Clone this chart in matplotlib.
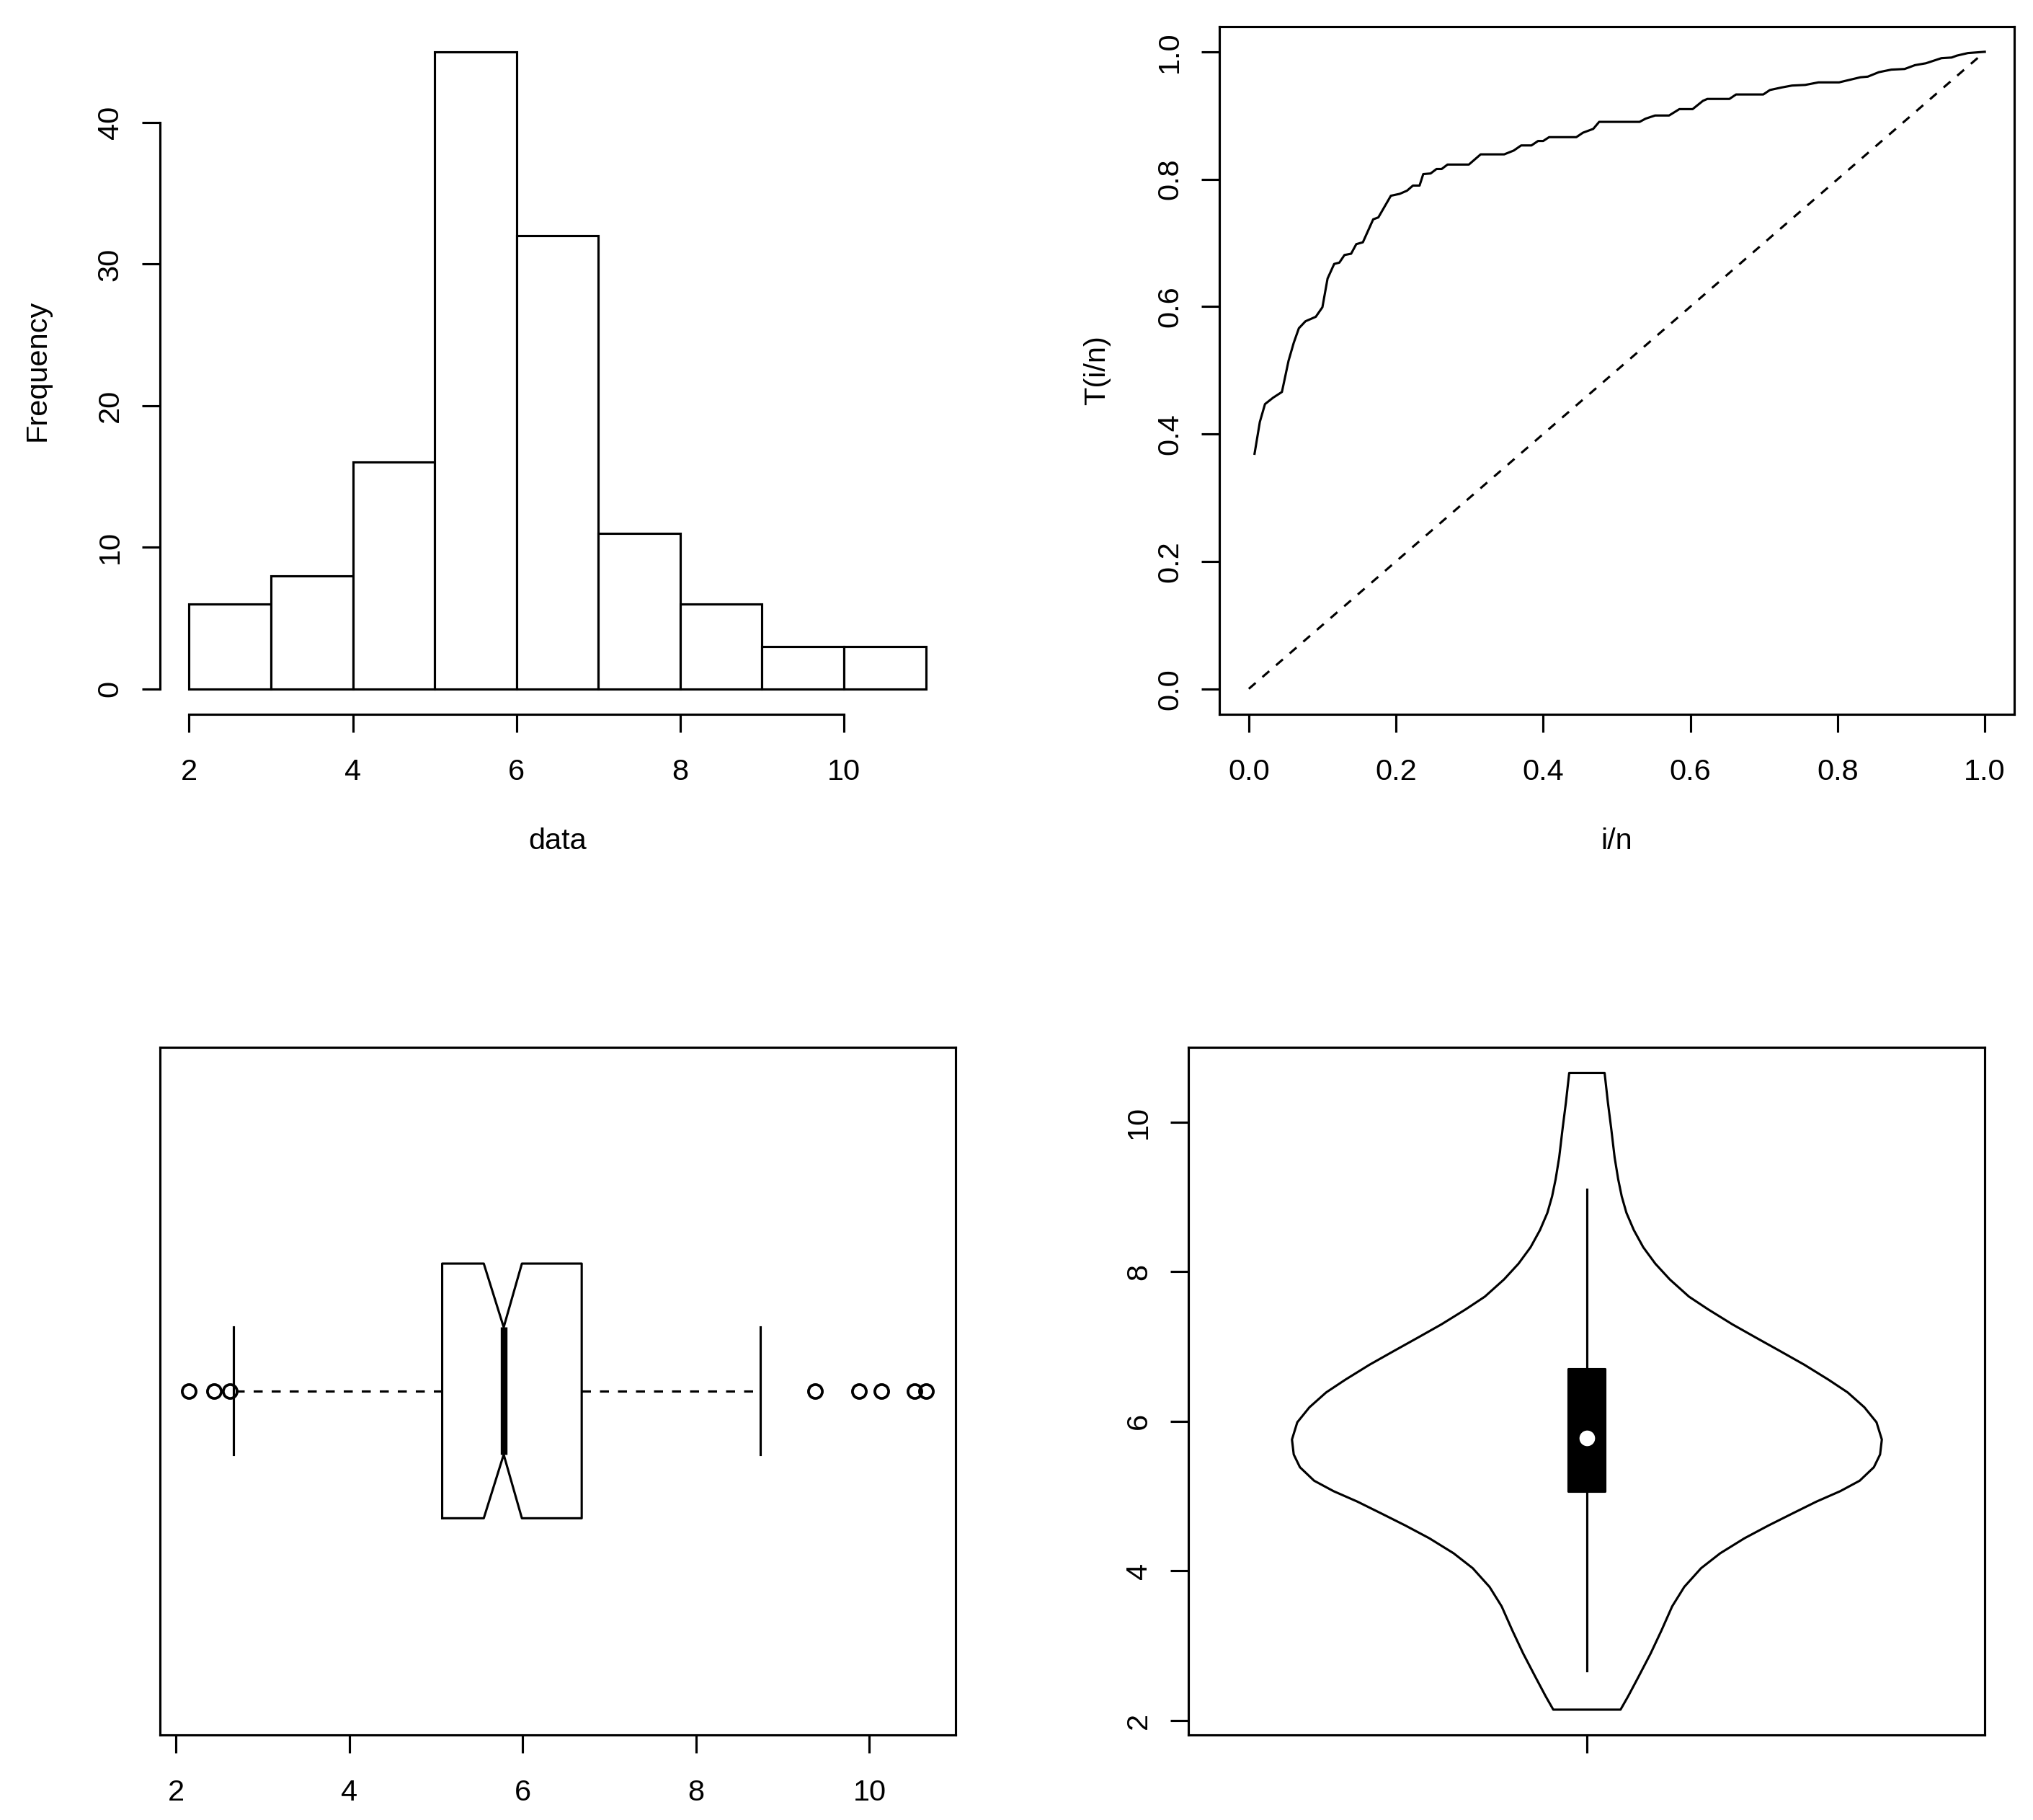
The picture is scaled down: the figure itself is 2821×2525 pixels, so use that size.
import numpy as np
import matplotlib
matplotlib.use("Agg")
import matplotlib.pyplot as plt

# ---------------- data ----------------
hist_edges = [2, 3, 4, 5, 6, 7, 8, 9, 10, 11]
hist_counts = [6, 8, 16, 45, 32, 11, 6, 3, 3]
hist_xticks = [2, 4, 6, 8, 10]
hist_yticks = [0, 10, 20, 30, 40]

ttt_x = [0.0078, 0.015, 0.022, 0.033, 0.045, 0.054, 0.061, 0.068, 0.077, 0.091,
         0.100, 0.107, 0.116, 0.123, 0.130, 0.139, 0.146, 0.155, 0.169, 0.176,
         0.193, 0.205, 0.215, 0.223, 0.232, 0.237, 0.247, 0.255, 0.262, 0.270,
         0.299, 0.315, 0.347, 0.360, 0.370, 0.384, 0.393, 0.400, 0.408, 0.445,
         0.454, 0.468, 0.476, 0.531, 0.539, 0.552, 0.571, 0.585, 0.603, 0.617,
         0.623, 0.653, 0.662, 0.699, 0.708, 0.724, 0.738, 0.756, 0.774, 0.802,
         0.831, 0.841, 0.856, 0.873, 0.891, 0.905, 0.920, 0.941, 0.955, 0.962,
         0.977, 1.000]
ttt_y = [0.369, 0.419, 0.447, 0.457, 0.466, 0.515, 0.543, 0.566, 0.577, 0.584,
         0.599, 0.644, 0.667, 0.669, 0.681, 0.683, 0.698, 0.701, 0.737, 0.740,
         0.774, 0.777, 0.782, 0.790, 0.790, 0.808, 0.809, 0.816, 0.816, 0.823,
         0.823, 0.839, 0.839, 0.845, 0.853, 0.853, 0.860, 0.860, 0.866, 0.866,
         0.873, 0.879, 0.890, 0.890, 0.895, 0.900, 0.900, 0.910, 0.910, 0.923,
         0.926, 0.926, 0.933, 0.933, 0.940, 0.944, 0.947, 0.948, 0.952, 0.952,
         0.960, 0.961, 0.968, 0.972, 0.973, 0.979, 0.982, 0.990, 0.991, 0.994,
         0.998, 1.000]
diag_x = [0.0, 1.0]
diag_y = [0.0, 1.0]
unit_ticks = [0.0, 0.2, 0.4, 0.6, 0.8, 1.0]

box_q1 = 5.07
box_med = 5.78
box_q3 = 6.68
box_cilo = 5.55
box_cihi = 5.99
box_whislo = 2.66
box_whishi = 8.74
box_fliers = [2.15, 2.44, 2.62, 9.37, 9.88, 10.14, 10.52, 10.65]
box_xticks = [2, 4, 6, 8, 10]

vio_y = [10.66, 10.27, 9.93, 9.53, 9.24, 9.01, 8.79, 8.56, 8.33, 8.11,
         7.90, 7.67, 7.50, 7.30, 7.12, 6.94, 6.76, 6.56, 6.39, 6.19,
         5.99, 5.76, 5.56, 5.39, 5.21, 5.07, 4.93, 4.77, 4.61, 4.44,
         4.24, 4.04, 3.79, 3.53, 3.21, 2.90, 2.59, 2.33, 2.15]
vio_w = [0.060, 0.071, 0.082, 0.094, 0.106, 0.118, 0.134, 0.159, 0.191, 0.232,
         0.281, 0.346, 0.411, 0.493, 0.574, 0.656, 0.737, 0.819, 0.884, 0.941,
         0.982, 1.000, 0.994, 0.973, 0.925, 0.859, 0.778, 0.696, 0.615, 0.534,
         0.452, 0.387, 0.330, 0.289, 0.253, 0.216, 0.175, 0.140, 0.114]
vio_q1 = 5.06
vio_q3 = 6.70
vio_med = 5.78
vio_lo = 2.66
vio_hi = 9.10
vio_yticks = [2, 4, 6, 8, 10]

# ---------------- style ----------------
W, H, DPI = 2821, 2525, 300
LW = 0.75
plt.rcParams.update({
    "font.family": ["Liberation Sans", "DejaVu Sans"],
    "font.size": 9.96,
    "axes.linewidth": LW,
    "lines.linewidth": LW,
    "xtick.major.size": 6,
    "ytick.major.size": 6,
    "xtick.major.width": LW,
    "ytick.major.width": LW,
    "xtick.major.pad": 8.6,
    "ytick.major.pad": 6.0,
    "xtick.direction": "out",
    "ytick.direction": "out",
})

fig = plt.figure(figsize=(W / DPI, H / DPI), dpi=DPI)
fig.patch.set_facecolor("white")


def add_axes(x0, y0, x1, y1):
    return fig.add_axes([x0 / W, 1 - y1 / H, (x1 - x0) / W, (y1 - y0) / H])


def rot_yticks(ax):
    ax.tick_params(axis="y", labelrotation=90)
    for t in ax.get_yticklabels():
        t.set_verticalalignment("center")


def set_labels(ax, xl, yl, axw, axh):
    if xl:
        ax.set_xlabel(xl)
        ax.xaxis.label.set_va("baseline")
        ax.xaxis.set_label_coords(0.5, -187 / axh)
    if yl:
        ax.set_ylabel(yl)
        ax.yaxis.label.set_va("baseline")
        ax.yaxis.set_label_coords(-159 / axw, 0.5)


# ---------------- panel 1: histogram ----------------
ax1 = add_axes(221.5, 36.5, 1325.5, 991)
lefts = hist_edges[:-1]
widths = np.diff(hist_edges)
ax1.bar(lefts, hist_counts, width=widths, align="edge",
        facecolor="white", edgecolor="black", linewidth=LW)
ax1.set_xlim(1.64, 11.36)
ax1.set_ylim(-1.8, 46.8)
for s in ("top", "right"):
    ax1.spines[s].set_visible(False)
ax1.spines["bottom"].set_bounds(hist_xticks[0], hist_xticks[-1])
ax1.spines["left"].set_bounds(hist_yticks[0], hist_yticks[-1])
ax1.set_xticks(hist_xticks)
ax1.set_yticks(hist_yticks)
rot_yticks(ax1)
set_labels(ax1, "data", "Frequency", 1104, 954.5)

# ---------------- panel 2: TTT plot ----------------
ax2 = add_axes(1692, 36.5, 2795, 991)
ax2.plot(ttt_x, ttt_y, color="black", linewidth=LW)
ax2.plot(diag_x, diag_y, color="black", linewidth=LW, linestyle=(0, (4, 4)))
ax2.set_xlim(-0.04, 1.04)
ax2.set_ylim(-0.04, 1.04)
ax2.set_xticks(unit_ticks)
ax2.set_yticks(unit_ticks)
ax2.set_xticklabels([f"{v:.1f}" for v in unit_ticks])
ax2.set_yticklabels([f"{v:.1f}" for v in unit_ticks])
rot_yticks(ax2)
set_labels(ax2, "i/n", "T(i/n)", 1103, 954.5)

# ---------------- panel 3: notched boxplot ----------------
ax3 = add_axes(221.5, 1452.7, 1325.5, 2406.7)
stats = [{
    "med": box_med, "q1": box_q1, "q3": box_q3,
    "whislo": box_whislo, "whishi": box_whishi,
    "cilo": box_cilo, "cihi": box_cihi,
    "fliers": np.array(box_fliers),
}]
ax3.bxp(stats, positions=[1], widths=[0.4], shownotches=True,
        orientation="horizontal",
        boxprops=dict(color="black", linewidth=LW),
        whiskerprops=dict(color="black", linewidth=LW, linestyle=(0, (4, 4))),
        capprops=dict(color="black", linewidth=LW),
        medianprops=dict(color="black", linewidth=2.25, solid_capstyle="butt"),
        flierprops=dict(marker="o", markerfacecolor="none",
                        markeredgecolor="black", markersize=4.6,
                        markeredgewidth=0.9, linestyle="none"))
ax3.set_xlim(1.81, 10.99)
ax3.set_ylim(0.46, 1.54)
ax3.set_xticks(box_xticks)
ax3.set_xticklabels([str(v) for v in box_xticks])
ax3.set_yticks([])

# ---------------- panel 4: violin plot ----------------
ax4 = add_axes(1649, 1452.7, 2754, 2406.7)
half = 0.4 * np.array(vio_w)
ax4.fill_betweenx(vio_y, 1 - half, 1 + half, facecolor="white",
                  edgecolor="black", linewidth=LW, joinstyle="round")
ax4.plot([1, 1], [vio_lo, vio_hi], color="black", linewidth=LW)
ax4.fill_betweenx([vio_q1, vio_q3], 1 - 0.025, 1 + 0.025,
                  facecolor="black", edgecolor="black", linewidth=LW)
ax4.plot([1], [vio_med], marker="o", markersize=5.2, color="white",
         markeredgewidth=0, linestyle="none")
ax4.set_xlim(0.46, 1.54)
ax4.set_ylim(1.81, 11.0)
ax4.set_xticks([1])
ax4.set_xticklabels([""])
ax4.set_yticks(vio_yticks)
rot_yticks(ax4)

fig.savefig("out.png", dpi=DPI, facecolor="white")
